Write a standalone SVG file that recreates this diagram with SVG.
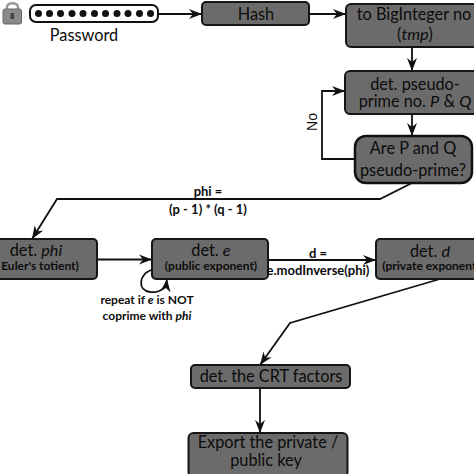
<svg xmlns="http://www.w3.org/2000/svg" width="474" height="474" viewBox="0 0 474 474">
<style>
text{font-family:Lato,"Open Sans","Liberation Sans",sans-serif;fill:#0c0c0c;text-anchor:middle}
.n{fill:#6b6b6b;stroke:#161616;stroke-width:2}
.t{font-size:16.300px}
.s{font-size:13px;font-weight:700}
.x{font-size:12px;font-weight:700}
.c{fill:none;stroke:#111;stroke-width:1.8}
</style>
<defs>
<marker id="a" markerUnits="userSpaceOnUse" markerWidth="14" markerHeight="12" refX="13" refY="6" orient="auto"><path d="M0 1L13 6L0 11L4 6Z" fill="#111"/></marker>
</defs>
<rect width="474" height="474" fill="#fff"/>
<g id="connectors">
<path class="c" marker-end="url(#a)" d="M158 14H202"/>
<path class="c" marker-end="url(#a)" d="M309 14H346"/>
<path class="c" marker-end="url(#a)" d="M412 47V71"/>
<path class="c" marker-end="url(#a)" d="M412 114V136"/>
<path class="c" marker-end="url(#a)" d="M355 159H322V91H345"/>
<path class="c" marker-end="url(#a)" d="M412 183L380 199H57L32 239"/>
<path class="c" marker-end="url(#a)" d="M97 259.500H152"/>
<path class="c" marker-end="url(#a)" d="M268 260H376"/>
<path class="c" marker-end="url(#a)" d="M151 270C139 275 137 290 150 292C160 293 166 288 167 279"/>
<path class="c" marker-end="url(#a)" d="M440 279L290 323L260 365"/>
<path class="c" marker-end="url(#a)" d="M260 388V433"/>
</g>
<g id="lock">
<path d="M7 11V7C7 2 18 2 18 7V11" fill="none" stroke="#999" stroke-width="2.500"/>
<rect x="3" y="9" width="18.500" height="15" rx="2" fill="#8a8a8a" stroke="#666"/>
<rect x="10.500" y="13" width="3.500" height="6" fill="#444"/>
</g>
<g id="password">
<rect x="30" y="5" width="128" height="17" rx="6" fill="#fff" stroke="#111" stroke-width="2"/>
<g fill="#111">
<circle cx="38.500" cy="13.500" r="3.500"/><circle cx="49.500" cy="13.500" r="3.500"/><circle cx="60.500" cy="13.500" r="3.500"/><circle cx="72" cy="13.500" r="3.500"/><circle cx="83" cy="13.500" r="3.500"/><circle cx="94.500" cy="13.500" r="3.500"/><circle cx="105.500" cy="13.500" r="3.500"/><circle cx="117" cy="13.500" r="3.500"/><circle cx="128" cy="13.500" r="3.500"/><circle cx="139.500" cy="13.500" r="3.500"/><circle cx="150.500" cy="13.500" r="3.500"/>
</g>
<text class="t" x="84" y="41">Password</text>
</g>
<g id="hash"><rect class="n" x="202" y="2" width="107" height="23" rx="4"/><text class="t" x="256" y="20">Hash</text></g>
<g id="biginteger"><rect class="n" x="346" y="4" width="134" height="43" rx="5"/><text class="t" x="414" y="20">to BigInteger no</text><text class="t" x="415" y="40">(<tspan font-style="italic">tmp</tspan>)</text></g>
<g id="pseudo"><rect class="n" x="345" y="71" width="134" height="43" rx="5"/><text class="t" x="415" y="90">det. pseudo-</text><text class="t" x="415" y="107">prime no. <tspan font-style="italic">P</tspan> &amp; <tspan font-style="italic">Q</tspan></text></g>
<g id="check"><rect x="355" y="136" width="117" height="47" rx="11" fill="#6b6b6b" stroke="#111" stroke-width="2.500"/><text class="t" x="413" y="154">Are P and Q</text><text class="t" x="413" y="176">pseudo-prime?</text></g>
<text x="317" y="122" font-size="14" transform="rotate(-90 317 122)" style="font-family:'Liberation Sans',sans-serif">No</text>
<text class="s" x="208" y="196">phi =</text>
<text class="s" x="208" y="214">(p - 1) * (q - 1)</text>
<g id="phi"><rect class="n" x="-10" y="239" width="107" height="40" rx="4"/><text class="t" x="36" y="256">det. <tspan font-style="italic">phi</tspan></text><text class="x" x="40" y="270">Euler's totient)</text></g>
<g id="e"><rect class="n" x="152" y="239" width="116" height="40" rx="4"/><text class="t" x="211" y="256">det. <tspan font-style="italic">e</tspan></text><text class="x" x="211" y="270">(public exponent)</text></g>
<g id="d"><rect class="n" x="376" y="239" width="110" height="40" rx="4"/><text class="t" x="430" y="257">det. <tspan font-style="italic">d</tspan></text><text class="x" x="431" y="270">(private exponent)</text></g>
<text class="s" x="318" y="258">d =</text>
<text class="s" x="318" y="275">e.modInverse(phi)</text>
<text class="x" x="147" y="304">repeat if <tspan font-style="italic">e</tspan> is NOT</text>
<text class="x" x="147" y="320">coprime with <tspan font-style="italic">phi</tspan></text>
<g id="crt"><rect class="n" x="191" y="365" width="159" height="23" rx="4"/><text class="t" x="271" y="382">det. the CRT factors</text></g>
<g id="export"><rect class="n" x="188.500" y="433" width="159" height="44" rx="5"/><text class="t" x="268" y="448">Export the private /</text><text class="t" x="266" y="466">public key</text></g>
</svg>
